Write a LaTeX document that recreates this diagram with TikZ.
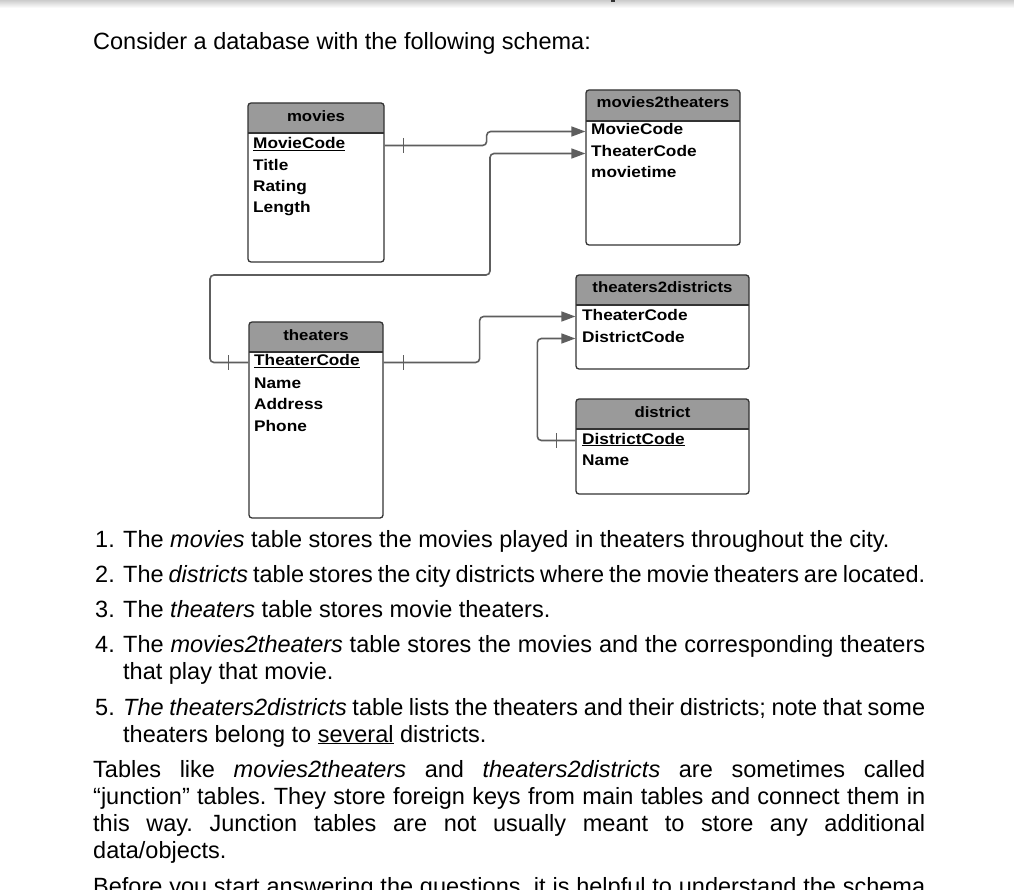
\documentclass[tikz,border=0pt]{standalone}
\usepackage{fontspec}
\setmainfont{Liberation Sans}
\newfontfamily\erfont[FakeStretch=1.12]{Liberation Sans}
\usetikzlibrary{arrows.meta,fit,calc}
\definecolor{boxc}{HTML}{333333}
\definecolor{hdrc}{HTML}{9A9A9A}
\definecolor{connc}{HTML}{5E5E5E}
\frenchspacing
\tikzset{
  tbox/.style={draw=boxc, line width=1.3pt, rounded corners=3pt, inner sep=0pt},
  hdrt/.style={font=\erfont\bfseries\fontsize{15}{18}\selectfont, inner sep=0pt, anchor=base},
  fld/.style={font=\erfont\bfseries\fontsize{15.4}{18}\selectfont, inner sep=0pt, anchor=base west, text height=9pt, text depth=2pt},
  conn/.style={draw=connc, line width=1.6pt, rounded corners=4pt},
  tick/.style={draw=connc, line width=1.4pt},
  arr/.style={-{Triangle[length=14pt,width=10pt]}},
  txt/.style={font=\fontsize{23.5}{27}\selectfont, inner sep=0pt, anchor=base west},
}
% name, x1, y1, x2, y2, header bottom, title baseline, title
\newcommand\ertable[8]{%
  \fill[hdrc, rounded corners=3pt] (#2,#3) rectangle (#4,#6);
  \fill[hdrc] (#2,{#3+5}) rectangle (#4,#6);
  \draw[boxc, line width=1.3pt] (#2,#6) -- (#4,#6);
  \node[tbox, fit={(#2,#3) (#4,#5)}] (#1) {};
  \node[hdrt] (#1-title) at ({(#2+#4)/2},#7) {#8};
}
\begin{document}
\begin{tikzpicture}[x=1pt, y=-1pt]
\useasboundingbox (0,0) rectangle (1014,890);
\fill[white] (0,0) rectangle (1014,890);
\shade[top color=black!20, bottom color=white] (0,0) rectangle (1014,8);
\fill[black!80] (611,0) rectangle (615,2);

\node[txt] (intro) at (93,50) {Consider a database with the following schema:};

% tables
\ertable{movies}{248}{103}{384}{262}{133}{122}{movies}
\node[fld] (mMC) at (253,149) {\underline{MovieCode}};
\node[fld] (mTi) at (253,171) {Title};
\node[fld] (mRa) at (253,192) {Rating};
\node[fld] (mLe) at (253,213) {Length};

\ertable{m2t}{586}{90}{740}{245}{121}{108}{movies2theaters}
\node[fld] (m2tMC) at (591,135) {MovieCode};
\node[fld] (m2tTC) at (591,157) {TheaterCode};
\node[fld] (m2tMT) at (591,178) {movietime};

\ertable{t2d}{576}{275}{749}{369}{305}{293}{theaters2districts}
\node[fld] (t2dTC) at (582,320) {TheaterCode};
\node[fld] (t2dDC) at (582,342) {DistrictCode};

\ertable{theaters}{249}{322}{383}{518}{352}{341}{theaters}
\node[fld] (tTC) at (254,366) {\underline{TheaterCode}};
\node[fld] (tNa) at (254,388) {Name};
\node[fld] (tAd) at (254,409) {Address};
\node[fld] (tPh) at (254,431) {Phone};

\ertable{district}{576}{399}{749}{494}{429}{417}{district}
\node[fld] (dDC) at (582,444) {\underline{DistrictCode}};
\node[fld] (dNa) at (582,465) {Name};

% connectors
\draw[conn, arr] (movies.east |- mMC.west) -- ++(102,0) |- (m2t.west |- m2tMC.west);
\draw[tick] ($(movies.east |- mMC.west)+(19,-7.5)$) -- ++(0,15);

\draw[conn, arr] (theaters.west |- tTC.west) -| (210,275) -| (490,200) |- (m2t.west |- m2tTC.west);
\draw[tick] ($(theaters.west |- tTC.west)+(-20,-7.5)$) -- ++(0,15);

\draw[conn, arr] (theaters.east |- tTC.west) -- ++(96,0) |- (t2d.west |- t2dTC.west);
\draw[tick] ($(theaters.east |- tTC.west)+(20,-7.5)$) -- ++(0,15);

\draw[conn, arr] (district.west |- dDC.west) -- ++(-38,0) |- (t2d.west |- t2dDC.west);
\draw[tick] ($(district.west |- dDC.west)+(-19,-7.5)$) -- ++(0,15);

% list
\node[txt] (n1) at (95,547) {1.};
\node[txt] (i1) at (123,547) {The \textit{movies} table stores the movies played in theaters throughout the city.};
\node[txt] (n2) at (95,582) {2.};
\node[txt] (i2) at (123,582) {\makebox[802pt][s]{The \textit{districts} table stores the city districts where the movie theaters are located.}};
\node[txt] (n3) at (95,617) {3.};
\node[txt] (i3) at (123,617) {The \textit{theaters} table stores movie theaters.};
\node[txt] (n4) at (95,652) {4.};
\node[txt] (i4a) at (123,652) {\makebox[802pt][s]{The \textit{movies2theaters} table stores the movies and the corresponding theaters}};
\node[txt] (i4b) at (123,679) {that play that movie.};
\node[txt] (n5) at (95,715) {5.};
\node[txt] (i5a) at (123,715) {\makebox[802pt][s]{\textit{The theaters2districts} table lists the theaters and their districts; note that some}};
\node[txt] (i5b) at (123,742) {theaters belong to \underline{several} districts.};

% paragraph
\node[txt] (p1) at (93,777) {\makebox[832pt][s]{Tables like \textit{movies2theaters} and \textit{theaters2districts} are sometimes called}};
\node[txt] (p2) at (93,804) {\makebox[832pt][s]{“junction” tables. They store foreign keys from main tables and connect them in}};
\node[txt] (p3) at (93,831) {\makebox[832pt][s]{this way. Junction tables are not usually meant to store any additional}};
\node[txt] (p4) at (93,858) {data/objects.};
\node[txt] (p5) at (93,894) {\makebox[832pt][s]{Before you start answering the questions, it is helpful to understand the schema}};
\end{tikzpicture}
\end{document}
